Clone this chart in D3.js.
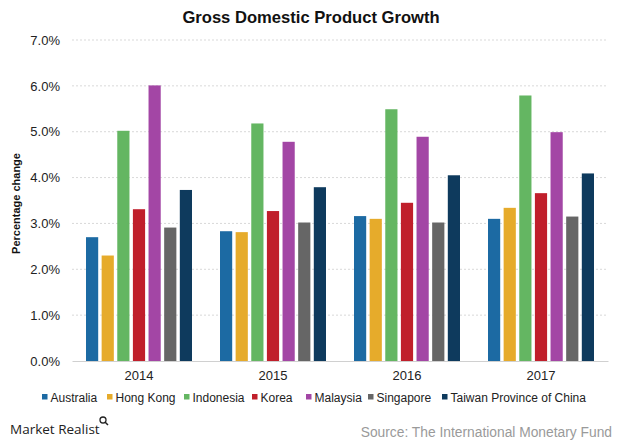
<!DOCTYPE html>
<html>
<head>
<meta charset="utf-8">
<script src="https://cdn.jsdelivr.net/npm/d3@7"></script>
<style>
  body { margin: 0; background: #fff; }
  text { font-family: "Liberation Sans", Arial, sans-serif; }
</style>
</head>
<body>
<svg id="chart" width="620" height="443"></svg>
<script>
// data
const years = ["2014", "2015", "2016", "2017"];
const countries = ["Australia", "Hong Kong", "Indonesia", "Korea", "Malaysia", "Singapore", "Taiwan Province of China"];
const colors = ["#1c6aa3", "#e6ab2b", "#64b662", "#c01f2b", "#a346a5", "#666666", "#0e3a5d"];
// one row per country, values for 2014..2017 (%)
const australia = [2.70, 2.83, 3.16, 3.10];
const hongKong = [2.30, 2.81, 3.10, 3.34];
const indonesia = [5.02, 5.18, 5.49, 5.79];
const korea = [3.31, 3.27, 3.45, 3.66];
const malaysia = [6.01, 4.78, 4.89, 4.99];
const singapore = [2.91, 3.02, 3.02, 3.15];
const taiwan = [3.73, 3.79, 4.05, 4.09];
const yTicks = [0, 1, 2, 3, 4, 5, 6, 7];

const seriesValues = [australia, hongKong, indonesia, korea, malaysia, singapore, taiwan];

const svg = d3.select('#chart');
const margin = { left: 72, right: 12, top: 40, bottom: 82 };
const width = 620, height = 443;

const x0 = d3.scaleBand()
    .domain(years)
    .range([margin.left, width - margin.right]);

const x1 = d3.scaleBand()
    .domain(countries)
    .range([14, x0.bandwidth() - 14])
    .paddingInner(0.22);

const y = d3.scaleLinear()
    .domain([0, 7])
    .range([height - margin.bottom, margin.top]);

const color = d3.scaleOrdinal().domain(countries).range(colors);

// title
svg.append('text')
    .text('Gross Domestic Product Growth')
    .attr('x', 311)
    .attr('y', 23)
    .attr('text-anchor', 'middle')
    .attr('font-size', 16.6)
    .attr('font-weight', 'bold')
    .attr('fill', '#111');

// gridlines
svg.append('g')
    .selectAll('line')
    .data(yTicks.slice(1))
    .join('line')
    .attr('x1', margin.left)
    .attr('x2', width - margin.right)
    .attr('y1', d => y(d))
    .attr('y2', d => y(d))
    .attr('stroke', '#d9d9d9')
    .attr('stroke-dasharray', '2,2');

// y axis
const yAxis = svg.append('g')
    .attr('transform', `translate(${margin.left},0)`)
    .call(d3.axisLeft(y).tickValues(yTicks).tickFormat(d => d.toFixed(1) + '%').tickSize(0).tickPadding(12));
yAxis.select('.domain').remove();
yAxis.selectAll('text')
    .attr('font-size', 13)
    .attr('fill', '#222')
    .style('font-family', '"Liberation Sans", Arial, sans-serif');

svg.append('text')
    .text('Percentage change')
    .attr('transform', `translate(20,${y(3.5) + 3}) rotate(-90)`)
    .attr('text-anchor', 'middle')
    .attr('font-size', 11)
    .attr('font-weight', 'bold')
    .attr('fill', '#111');

// bars
const groups = svg.append('g')
    .selectAll('g')
    .data(years)
    .join('g')
    .attr('transform', d => `translate(${x0(d)},0)`);

groups.selectAll('rect')
    .data((yr, i) => countries.map((c, j) => ({ country: c, value: seriesValues[j][i] })))
    .join('rect')
    .attr('x', d => x1(d.country))
    .attr('width', x1.bandwidth())
    .attr('y', d => y(d.value))
    .attr('height', d => y(0) - y(d.value))
    .attr('fill', d => color(d.country));

// x axis
const xAxis = svg.append('g')
    .attr('transform', `translate(0,${y(0)})`)
    .call(d3.axisBottom(x0).tickSize(0).tickPadding(10));
xAxis.select('.domain').attr('stroke', '#d0d0d0');
xAxis.selectAll('text')
    .attr('font-size', 13)
    .attr('fill', '#222')
    .style('font-family', '"Liberation Sans", Arial, sans-serif');

// legend
const legendX = [42, 107, 184, 252, 306, 368, 442];
const legend = svg.append('g')
    .selectAll('g')
    .data(countries)
    .join('g')
    .attr('transform', (d, i) => `translate(${legendX[i]},397)`);
legend.append('rect')
    .attr('x', 0).attr('y', -3)
    .attr('width', 5.5).attr('height', 5.5)
    .attr('fill', d => color(d));
legend.append('text')
    .text(d => d)
    .attr('x', 8.5)
    .attr('y', 4.5)
    .attr('font-size', 12)
    .attr('fill', '#222');

// footer
svg.append('text')
    .text('Market Realist')
    .attr('x', 10)
    .attr('y', 434)
    .attr('font-size', 13.5)
    .attr('fill', '#222')
    .style('font-family', '"Open Sans", sans-serif');
const mag = svg.append('g').attr('transform', 'translate(103,420)');
mag.append('circle').attr('r', 3).attr('fill', 'none').attr('stroke', '#222').attr('stroke-width', 1.3);
mag.append('line').attr('x1', 2).attr('y1', 2).attr('x2', 5).attr('y2', 5).attr('stroke', '#222').attr('stroke-width', 1.5);

svg.append('text')
    .text('Source: The International Monetary Fund')
    .attr('x', 612)
    .attr('y', 437)
    .attr('text-anchor', 'end')
    .attr('font-size', 13.8)
    .attr('fill', '#9a9a9a');
</script>
</body>
</html>
